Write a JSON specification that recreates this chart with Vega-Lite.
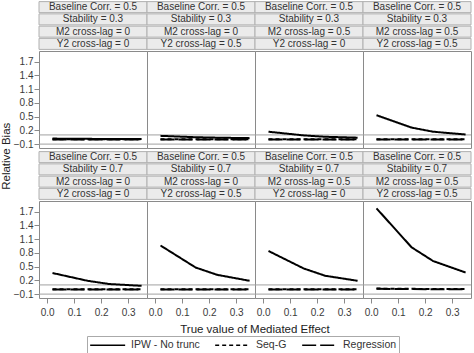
{
  "$schema": "https://vega.github.io/schema/vega-lite/v6.json",
  "padding": {"left": 0, "top": 1, "right": 2, "bottom": 0},
  "title": {"text": "Relative Bias", "orient": "left", "anchor": "middle", "fontSize": 11.5, "fontWeight": "normal", "font": "Liberation Sans", "color": "#222222", "offset": 1, "dx": 21},
  "config": {
    "font": "Liberation Sans",
    "view": {"stroke": "#8a8a8a"},
    "axis": {"labelFont": "Liberation Sans", "labelFontSize": 10, "labelColor": "#3a3a3a", "tickColor": "#8a8a8a", "domain": false, "grid": false, "labelOverlap": false, "titleFont": "Liberation Sans", "titleFontSize": 11.5, "titleFontWeight": "normal", "titleColor": "#222222"},
    "legend": {"labelFont": "Liberation Sans", "labelFontSize": 10.5, "labelColor": "#333333", "layout": {"bottom": {"anchor": "middle"}}}
  },
  "datasets": {
    "heads": [
      {"row": 1, "col": 1, "strip": 1, "label": "Baseline Corr. = 0.5"},
      {"row": 1, "col": 1, "strip": 2, "label": "Stability = 0.3"},
      {"row": 1, "col": 1, "strip": 3, "label": "M2 cross-lag = 0"},
      {"row": 1, "col": 1, "strip": 4, "label": "Y2 cross-lag = 0"},
      {"row": 1, "col": 2, "strip": 1, "label": "Baseline Corr. = 0.5"},
      {"row": 1, "col": 2, "strip": 2, "label": "Stability = 0.3"},
      {"row": 1, "col": 2, "strip": 3, "label": "M2 cross-lag = 0"},
      {"row": 1, "col": 2, "strip": 4, "label": "Y2 cross-lag = 0.5"},
      {"row": 1, "col": 3, "strip": 1, "label": "Baseline Corr. = 0.5"},
      {"row": 1, "col": 3, "strip": 2, "label": "Stability = 0.3"},
      {"row": 1, "col": 3, "strip": 3, "label": "M2 cross-lag = 0.5"},
      {"row": 1, "col": 3, "strip": 4, "label": "Y2 cross-lag = 0"},
      {"row": 1, "col": 4, "strip": 1, "label": "Baseline Corr. = 0.5"},
      {"row": 1, "col": 4, "strip": 2, "label": "Stability = 0.3"},
      {"row": 1, "col": 4, "strip": 3, "label": "M2 cross-lag = 0.5"},
      {"row": 1, "col": 4, "strip": 4, "label": "Y2 cross-lag = 0.5"},
      {"row": 2, "col": 1, "strip": 1, "label": "Baseline Corr. = 0.5"},
      {"row": 2, "col": 1, "strip": 2, "label": "Stability = 0.7"},
      {"row": 2, "col": 1, "strip": 3, "label": "M2 cross-lag = 0"},
      {"row": 2, "col": 1, "strip": 4, "label": "Y2 cross-lag = 0"},
      {"row": 2, "col": 2, "strip": 1, "label": "Baseline Corr. = 0.5"},
      {"row": 2, "col": 2, "strip": 2, "label": "Stability = 0.7"},
      {"row": 2, "col": 2, "strip": 3, "label": "M2 cross-lag = 0"},
      {"row": 2, "col": 2, "strip": 4, "label": "Y2 cross-lag = 0.5"},
      {"row": 2, "col": 3, "strip": 1, "label": "Baseline Corr. = 0.5"},
      {"row": 2, "col": 3, "strip": 2, "label": "Stability = 0.7"},
      {"row": 2, "col": 3, "strip": 3, "label": "M2 cross-lag = 0.5"},
      {"row": 2, "col": 3, "strip": 4, "label": "Y2 cross-lag = 0"},
      {"row": 2, "col": 4, "strip": 1, "label": "Baseline Corr. = 0.5"},
      {"row": 2, "col": 4, "strip": 2, "label": "Stability = 0.7"},
      {"row": 2, "col": 4, "strip": 3, "label": "M2 cross-lag = 0.5"},
      {"row": 2, "col": 4, "strip": 4, "label": "Y2 cross-lag = 0.5"}
    ],
    "lines": [
      {"row": 1, "col": 1, "method": "IPW - No trunc", "x": 0.02, "bias": 0.02},
      {"row": 1, "col": 1, "method": "IPW - No trunc", "x": 0.15, "bias": 0.015},
      {"row": 1, "col": 1, "method": "IPW - No trunc", "x": 0.23, "bias": 0.01},
      {"row": 1, "col": 1, "method": "IPW - No trunc", "x": 0.35, "bias": 0.01},
      {"row": 1, "col": 1, "method": "Seq-G", "x": 0.02, "bias": 0.005},
      {"row": 1, "col": 1, "method": "Seq-G", "x": 0.15, "bias": 0.005},
      {"row": 1, "col": 1, "method": "Seq-G", "x": 0.23, "bias": 0.005},
      {"row": 1, "col": 1, "method": "Seq-G", "x": 0.35, "bias": 0.005},
      {"row": 1, "col": 1, "method": "Regression", "x": 0.02, "bias": 0.0},
      {"row": 1, "col": 1, "method": "Regression", "x": 0.15, "bias": 0.0},
      {"row": 1, "col": 1, "method": "Regression", "x": 0.23, "bias": 0.0},
      {"row": 1, "col": 1, "method": "Regression", "x": 0.35, "bias": 0.0},
      {"row": 1, "col": 2, "method": "IPW - No trunc", "x": 0.02, "bias": 0.08},
      {"row": 1, "col": 2, "method": "IPW - No trunc", "x": 0.15, "bias": 0.05},
      {"row": 1, "col": 2, "method": "IPW - No trunc", "x": 0.23, "bias": 0.04},
      {"row": 1, "col": 2, "method": "IPW - No trunc", "x": 0.35, "bias": 0.03},
      {"row": 1, "col": 2, "method": "Seq-G", "x": 0.02, "bias": 0.005},
      {"row": 1, "col": 2, "method": "Seq-G", "x": 0.15, "bias": 0.005},
      {"row": 1, "col": 2, "method": "Seq-G", "x": 0.23, "bias": 0.005},
      {"row": 1, "col": 2, "method": "Seq-G", "x": 0.35, "bias": 0.005},
      {"row": 1, "col": 2, "method": "Regression", "x": 0.02, "bias": 0.0},
      {"row": 1, "col": 2, "method": "Regression", "x": 0.15, "bias": 0.0},
      {"row": 1, "col": 2, "method": "Regression", "x": 0.23, "bias": 0.0},
      {"row": 1, "col": 2, "method": "Regression", "x": 0.35, "bias": 0.0},
      {"row": 1, "col": 3, "method": "IPW - No trunc", "x": 0.02, "bias": 0.17},
      {"row": 1, "col": 3, "method": "IPW - No trunc", "x": 0.15, "bias": 0.09},
      {"row": 1, "col": 3, "method": "IPW - No trunc", "x": 0.23, "bias": 0.06},
      {"row": 1, "col": 3, "method": "IPW - No trunc", "x": 0.35, "bias": 0.04},
      {"row": 1, "col": 3, "method": "Seq-G", "x": 0.02, "bias": 0.005},
      {"row": 1, "col": 3, "method": "Seq-G", "x": 0.15, "bias": 0.005},
      {"row": 1, "col": 3, "method": "Seq-G", "x": 0.23, "bias": 0.005},
      {"row": 1, "col": 3, "method": "Seq-G", "x": 0.35, "bias": 0.005},
      {"row": 1, "col": 3, "method": "Regression", "x": 0.02, "bias": 0.0},
      {"row": 1, "col": 3, "method": "Regression", "x": 0.15, "bias": 0.0},
      {"row": 1, "col": 3, "method": "Regression", "x": 0.23, "bias": 0.0},
      {"row": 1, "col": 3, "method": "Regression", "x": 0.35, "bias": 0.0},
      {"row": 1, "col": 4, "method": "IPW - No trunc", "x": 0.02, "bias": 0.53},
      {"row": 1, "col": 4, "method": "IPW - No trunc", "x": 0.15, "bias": 0.26},
      {"row": 1, "col": 4, "method": "IPW - No trunc", "x": 0.23, "bias": 0.17},
      {"row": 1, "col": 4, "method": "IPW - No trunc", "x": 0.35, "bias": 0.11},
      {"row": 1, "col": 4, "method": "Seq-G", "x": 0.02, "bias": 0.005},
      {"row": 1, "col": 4, "method": "Seq-G", "x": 0.15, "bias": 0.005},
      {"row": 1, "col": 4, "method": "Seq-G", "x": 0.23, "bias": 0.005},
      {"row": 1, "col": 4, "method": "Seq-G", "x": 0.35, "bias": 0.005},
      {"row": 1, "col": 4, "method": "Regression", "x": 0.02, "bias": 0.0},
      {"row": 1, "col": 4, "method": "Regression", "x": 0.15, "bias": 0.0},
      {"row": 1, "col": 4, "method": "Regression", "x": 0.23, "bias": 0.0},
      {"row": 1, "col": 4, "method": "Regression", "x": 0.35, "bias": 0.0},
      {"row": 2, "col": 1, "method": "IPW - No trunc", "x": 0.02, "bias": 0.36},
      {"row": 2, "col": 1, "method": "IPW - No trunc", "x": 0.15, "bias": 0.19},
      {"row": 2, "col": 1, "method": "IPW - No trunc", "x": 0.23, "bias": 0.12},
      {"row": 2, "col": 1, "method": "IPW - No trunc", "x": 0.35, "bias": 0.08},
      {"row": 2, "col": 1, "method": "Seq-G", "x": 0.02, "bias": 0.005},
      {"row": 2, "col": 1, "method": "Seq-G", "x": 0.15, "bias": 0.005},
      {"row": 2, "col": 1, "method": "Seq-G", "x": 0.23, "bias": 0.005},
      {"row": 2, "col": 1, "method": "Seq-G", "x": 0.35, "bias": 0.005},
      {"row": 2, "col": 1, "method": "Regression", "x": 0.02, "bias": 0.0},
      {"row": 2, "col": 1, "method": "Regression", "x": 0.15, "bias": 0.0},
      {"row": 2, "col": 1, "method": "Regression", "x": 0.23, "bias": 0.0},
      {"row": 2, "col": 1, "method": "Regression", "x": 0.35, "bias": 0.0},
      {"row": 2, "col": 2, "method": "IPW - No trunc", "x": 0.02, "bias": 0.96},
      {"row": 2, "col": 2, "method": "IPW - No trunc", "x": 0.15, "bias": 0.48},
      {"row": 2, "col": 2, "method": "IPW - No trunc", "x": 0.23, "bias": 0.32},
      {"row": 2, "col": 2, "method": "IPW - No trunc", "x": 0.35, "bias": 0.19},
      {"row": 2, "col": 2, "method": "Seq-G", "x": 0.02, "bias": 0.005},
      {"row": 2, "col": 2, "method": "Seq-G", "x": 0.15, "bias": 0.005},
      {"row": 2, "col": 2, "method": "Seq-G", "x": 0.23, "bias": 0.005},
      {"row": 2, "col": 2, "method": "Seq-G", "x": 0.35, "bias": 0.005},
      {"row": 2, "col": 2, "method": "Regression", "x": 0.02, "bias": 0.0},
      {"row": 2, "col": 2, "method": "Regression", "x": 0.15, "bias": 0.0},
      {"row": 2, "col": 2, "method": "Regression", "x": 0.23, "bias": 0.0},
      {"row": 2, "col": 2, "method": "Regression", "x": 0.35, "bias": 0.0},
      {"row": 2, "col": 3, "method": "IPW - No trunc", "x": 0.02, "bias": 0.84},
      {"row": 2, "col": 3, "method": "IPW - No trunc", "x": 0.15, "bias": 0.46},
      {"row": 2, "col": 3, "method": "IPW - No trunc", "x": 0.23, "bias": 0.30},
      {"row": 2, "col": 3, "method": "IPW - No trunc", "x": 0.35, "bias": 0.19},
      {"row": 2, "col": 3, "method": "Seq-G", "x": 0.02, "bias": 0.005},
      {"row": 2, "col": 3, "method": "Seq-G", "x": 0.15, "bias": 0.005},
      {"row": 2, "col": 3, "method": "Seq-G", "x": 0.23, "bias": 0.005},
      {"row": 2, "col": 3, "method": "Seq-G", "x": 0.35, "bias": 0.005},
      {"row": 2, "col": 3, "method": "Regression", "x": 0.02, "bias": 0.0},
      {"row": 2, "col": 3, "method": "Regression", "x": 0.15, "bias": 0.0},
      {"row": 2, "col": 3, "method": "Regression", "x": 0.23, "bias": 0.0},
      {"row": 2, "col": 3, "method": "Regression", "x": 0.35, "bias": 0.0},
      {"row": 2, "col": 4, "method": "IPW - No trunc", "x": 0.02, "bias": 1.77},
      {"row": 2, "col": 4, "method": "IPW - No trunc", "x": 0.15, "bias": 0.92},
      {"row": 2, "col": 4, "method": "IPW - No trunc", "x": 0.23, "bias": 0.62},
      {"row": 2, "col": 4, "method": "IPW - No trunc", "x": 0.35, "bias": 0.37},
      {"row": 2, "col": 4, "method": "Seq-G", "x": 0.02, "bias": 0.02},
      {"row": 2, "col": 4, "method": "Seq-G", "x": 0.15, "bias": 0.015},
      {"row": 2, "col": 4, "method": "Seq-G", "x": 0.23, "bias": 0.01},
      {"row": 2, "col": 4, "method": "Seq-G", "x": 0.35, "bias": 0.01},
      {"row": 2, "col": 4, "method": "Regression", "x": 0.02, "bias": 0.015},
      {"row": 2, "col": 4, "method": "Regression", "x": 0.15, "bias": 0.01},
      {"row": 2, "col": 4, "method": "Regression", "x": 0.23, "bias": 0.005},
      {"row": 2, "col": 4, "method": "Regression", "x": 0.35, "bias": 0.005}
    ]
  },
  "spacing": 1,
  "resolve": {"scale": {"strokeDash": "shared"}, "legend": {"strokeDash": "shared"}},
  "vconcat": [
    {
      "spacing": 0,
      "vconcat": [
        {
          "data": {"name": "heads"},
          "transform": [{"filter": "datum.row == 1"}],
          "facet": {"column": {"field": "col", "type": "ordinal", "header": null}},
          "spacing": 0,
          "bounds": "flush",
          "spec": {
            "width": 108,
            "height": 49,
            "view": {"stroke": null},
            "encoding": {"y": {"field": "strip", "type": "ordinal", "axis": null, "scale": {"paddingInner": 0.1, "paddingOuter": 0.05}}},
            "layer": [
              {"mark": {"type": "rect", "fill": "#ebebeb", "stroke": "#b0b0b0", "strokeWidth": 1}},
              {"mark": {"type": "text", "fontSize": 10, "color": "#333333", "font": "Liberation Sans"}, "encoding": {"text": {"field": "label"}}}
            ]
          }
        },
        {
          "data": {"name": "lines"},
          "transform": [{"filter": "datum.row == 1"}],
          "facet": {"column": {"field": "col", "type": "ordinal", "header": null}},
          "spacing": 0,
          "bounds": "flush",
          "spec": {
            "width": 108,
            "height": 97,
            "encoding": {
              "y": {"field": "bias", "type": "quantitative", "scale": {"domain": [-0.185, 1.93], "nice": false, "zero": false}, "axis": {"values": [-0.1, 0.2, 0.5, 0.8, 1.1, 1.4, 1.7], "format": ".1f", "title": null, "tickSize": 5, "labelPadding": 1, "labelOverlap": false}}
            },
            "layer": [
              {"transform": [{"filter": "datum.method == 'Seq-G' && datum.x == 0.02"}], "mark": {"type": "rule", "color": "#a0a0a0", "strokeWidth": 1}, "encoding": {"y": {"datum": 0.1, "type": "quantitative"}}},
              {"transform": [{"filter": "datum.method == 'Seq-G' && datum.x == 0.02"}], "mark": {"type": "rule", "color": "#a0a0a0", "strokeWidth": 1}, "encoding": {"y": {"datum": -0.1, "type": "quantitative"}}},
              {
                "mark": {"type": "line", "color": "black", "strokeWidth": 2},
                "encoding": {
                  "x": {"field": "x", "type": "quantitative", "scale": {"domain": [-0.03, 0.37], "nice": false, "zero": false}, "axis": null},
                  "strokeDash": {"field": "method", "type": "nominal", "scale": {"domain": ["IPW - No trunc", "Seq-G", "Regression"], "range": [[1, 0], [4, 3], [14, 4]]}, "legend": {"title": null, "orient": "bottom", "direction": "horizontal", "symbolType": "M-1,0H5", "symbolSize": 136, "symbolStrokeWidth": 1.5, "symbolStrokeColor": "black", "strokeColor": "#aaaaaa", "padding": 2, "columnPadding": 12, "labelOffset": 28, "offset": 0}}
                }
              }
            ]
          }
        }
      ]
    },
    {
      "spacing": 0,
      "vconcat": [
        {
          "data": {"name": "heads"},
          "transform": [{"filter": "datum.row == 2"}],
          "facet": {"column": {"field": "col", "type": "ordinal", "header": null}},
          "spacing": 0,
          "bounds": "flush",
          "spec": {
            "width": 108,
            "height": 49,
            "view": {"stroke": null},
            "encoding": {"y": {"field": "strip", "type": "ordinal", "axis": null, "scale": {"paddingInner": 0.1, "paddingOuter": 0.05}}},
            "layer": [
              {"mark": {"type": "rect", "fill": "#ebebeb", "stroke": "#b0b0b0", "strokeWidth": 1}},
              {"mark": {"type": "text", "fontSize": 10, "color": "#333333", "font": "Liberation Sans"}, "encoding": {"text": {"field": "label"}}}
            ]
          }
        },
        {
          "data": {"name": "lines"},
          "transform": [{"filter": "datum.row == 2"}],
          "facet": {"column": {"field": "col", "type": "ordinal", "header": {"labels": false, "labelPadding": 0, "title": "True value of Mediated Effect", "titleOrient": "bottom", "titleFont": "Liberation Sans", "titleFontSize": 11.5, "titleFontWeight": "normal", "titleColor": "#222222", "titlePadding": -3}}},
          "spacing": 0,
          "bounds": "flush",
          "spec": {
            "width": 108,
            "height": 97,
            "encoding": {
              "y": {"field": "bias", "type": "quantitative", "scale": {"domain": [-0.185, 1.93], "nice": false, "zero": false}, "axis": {"values": [-0.1, 0.2, 0.5, 0.8, 1.1, 1.4, 1.7], "format": ".1f", "title": null, "tickSize": 5, "labelPadding": 1, "labelOverlap": false}}
            },
            "layer": [
              {"transform": [{"filter": "datum.method == 'Seq-G' && datum.x == 0.02"}], "mark": {"type": "rule", "color": "#a0a0a0", "strokeWidth": 1}, "encoding": {"y": {"datum": 0.1, "type": "quantitative"}}},
              {"transform": [{"filter": "datum.method == 'Seq-G' && datum.x == 0.02"}], "mark": {"type": "rule", "color": "#a0a0a0", "strokeWidth": 1}, "encoding": {"y": {"datum": -0.1, "type": "quantitative"}}},
              {
                "mark": {"type": "line", "color": "black", "strokeWidth": 2},
                "encoding": {
                  "x": {"field": "x", "type": "quantitative", "scale": {"domain": [-0.03, 0.37], "nice": false, "zero": false}, "axis": {"values": [0, 0.1, 0.2, 0.3], "format": ".1f", "title": null, "tickSize": 5, "labelPadding": 4}},
                  "strokeDash": {"field": "method", "type": "nominal", "scale": {"domain": ["IPW - No trunc", "Seq-G", "Regression"], "range": [[1, 0], [4, 3], [14, 4]]}, "legend": {"title": null, "orient": "bottom", "direction": "horizontal", "symbolType": "M-1,0H5", "symbolSize": 136, "symbolStrokeWidth": 1.5, "symbolStrokeColor": "black", "strokeColor": "#aaaaaa", "padding": 2, "columnPadding": 12, "labelOffset": 28, "offset": 0}}
                }
              }
            ]
          }
        }
      ]
    }
  ]
}
